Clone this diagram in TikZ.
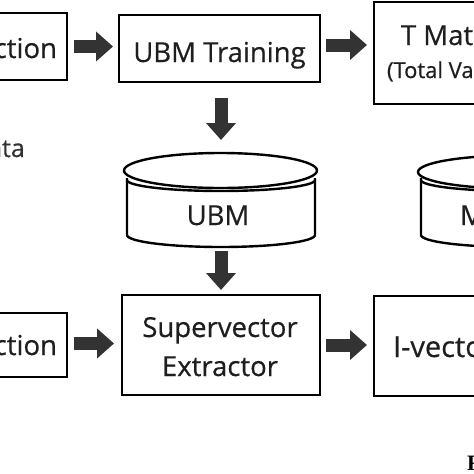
\documentclass[tikz,border=0pt]{standalone}
\usepackage{fontspec}
\setmainfont{Open Sans}[UprightFeatures={FakeBold=0.45}]
\newfontfamily\figfont{Liberation Serif}
\usetikzlibrary{arrows.meta,calc}
\definecolor{ink}{HTML}{1E1E1E}
\definecolor{arr}{HTML}{333333}
\definecolor{greytext}{HTML}{333333}
\begin{document}
\begin{tikzpicture}[x=1pt,y=1pt,
  box/.style={draw=black,line width=2.4pt,rectangle,inner sep=0pt,outer sep=0pt},
  lbl/.style={inner sep=0pt,outer sep=0pt,text=ink,font=\fontsize{27.5}{33}\selectfont},
  sublbl/.style={inner sep=0pt,outer sep=0pt,text=ink,font=\fontsize{22}{26}\selectfont},
  cyl/.style={draw=black,line width=2.4pt},
  blk/.style={draw=arr,line width=13pt,-{Triangle[length=17pt,width=29pt]}},
]
\useasboundingbox (0,0) rectangle (474,-474);
\clip (0,0) rectangle (474,-474);
\fill[white] (0,0) rectangle (474,-474);

% boxes
\node[box,minimum width=280,minimum height=67] (fe1) at (-73,-46.5) {};
\node[box,minimum width=201,minimum height=67] (ubmt) at (219.5,-48.5) {};
\node[box,minimum width=200,minimum height=102] (tbox) at (474,-53) {};
\node[box,minimum width=280,minimum height=64] (fe2) at (-73,-345) {};
\node[box,minimum width=198,minimum height=100] (superv) at (221,-345) {};
\node[box,minimum width=200,minimum height=100] (ivec) at (474,-346) {};

% box labels
\node[lbl,anchor=base east] (fe1t) at (57,-58) {Feature Extraction};
\node[lbl,anchor=base] (ubmtt) at (219.5,-62) {UBM Training};
\node[lbl,anchor=base west] (tboxt) at (401,-45) {T Matrix};
\node[sublbl,anchor=base west] (tboxs) at (387,-78) {(Total Variability Matrix)};
\node[lbl,anchor=base east] (fe2t) at (57,-355) {Feature Extraction};
\node[lbl,anchor=base] (supt1) at (220,-337) {Supervector};
\node[lbl,anchor=base] (supt2) at (220,-376) {Extractor};
\node[lbl,anchor=base west,font=\fontsize{29}{34}\selectfont] (ivect) at (393,-357) {I-vector Extractor};
\node[inner sep=0pt,text=greytext,font=\fontsize{25}{30}\selectfont,anchor=base east] (data) at (25,-157) {Data};

% cylinder UBM
\draw[cyl] (127,-178) -- (127,-235) arc[start angle=180,end angle=360,x radius=94,y radius=12] -- (315,-178);
\draw[cyl] (127,-180) arc[start angle=180,end angle=360,x radius=94,y radius=11];
\draw[cyl,fill=white] (220.5,-170.5) ellipse [x radius=96.5,y radius=17.5];
\node[minimum width=190,minimum height=94,inner sep=0pt,outer sep=0pt] (ubm) at (221,-200) {};
\node[lbl,anchor=base] (ubml) at (218,-225) {UBM};

% cylinder 2
\draw[cyl] (421,-178) -- (421,-235) arc[start angle=180,end angle=360,x radius=94,y radius=12] -- (609,-178);
\draw[cyl] (421,-180) arc[start angle=180,end angle=360,x radius=94,y radius=11];
\draw[cyl,fill=white] (514.5,-172) ellipse [x radius=96.5,y radius=16.5];
\node[minimum width=190,minimum height=94,inner sep=0pt,outer sep=0pt] (mcyl) at (515,-200) {};
\node[lbl,anchor=base west] (mcyll) at (460,-225) {Matrix};

% bottom right caption fragment
\node[inner sep=0pt,anchor=north west,font=\figfont\bfseries\fontsize{22}{26}\selectfont] (fig) at (467,-455) {Fig.};

% connector end points
\coordinate (a2s) at ($(ubmt.east)+(0,3.5)$);
\coordinate (a3s) at ($(fe2.east)+(0,1.5)$);

% connectors
\draw[blk,shorten <=7pt,shorten >=6pt] (fe1.east) -- (fe1.east -| ubmt.west);
\draw[blk,shorten <=6pt,shorten >=7pt] (a2s) -- (a2s -| tbox.west);
\draw[blk,shorten <=16pt,shorten >=13pt] (ubmt.south -| ubm.north) -- (ubm.north);
\draw[blk,shorten <=4pt,shorten >=5pt] (ubm.south) -- (ubm.south |- superv.north);
\draw[blk,shorten <=7pt,shorten >=8pt] (a3s) -- (a3s -| superv.west);
\draw[blk,shorten <=6pt,shorten >=7pt] (superv.east) -- (superv.east -| ivec.west);
\end{tikzpicture}
\end{document}
